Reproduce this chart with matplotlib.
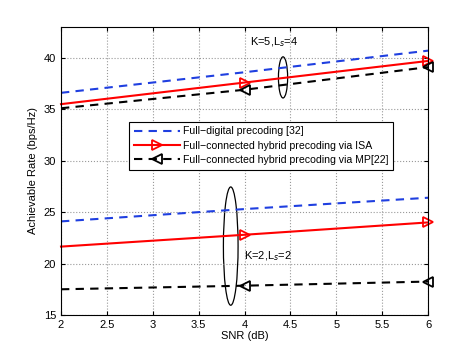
import matplotlib.pyplot as plt
from matplotlib.patches import Ellipse
from matplotlib.lines import Line2D

plt.rcParams['font.family'] = ['Liberation Sans', 'DejaVu Sans']

# SNR points
snr = [2, 4, 6]

# K=5, Ls=4
digital_k5 = [36.6, 38.6, 40.7]
isa_k5 = [35.5, 37.6, 39.7]
mp_k5 = [35.1, 36.9, 39.1]

# K=2, Ls=2
digital_k2 = [24.1, 25.3, 26.4]
isa_k2 = [21.65, 22.8, 24.0]
mp_k2 = [17.5, 17.85, 18.25]

labels = ["Full\u2212digital precoding [32]",
          "Full\u2212connected hybrid precoding via ISA",
          "Full\u2212connected hybrid precoding via MP[22]"]

blue = '#1f3fe0'
fig = plt.figure(figsize=(4.74, 3.55), dpi=100)
ax = fig.add_axes([61 / 474, 40 / 355, 367 / 474, 288 / 355])

mk = [1, 2]
red_style = dict(color='red', lw=1.5, marker='>', markerfacecolor='none',
                 markeredgewidth=1.3, markersize=7)
black_style = dict(color='black', lw=1.5, dashes=(4, 3), marker='<',
                   markerfacecolor='none', markeredgewidth=1.3, markersize=7)

for d, i, m in [(digital_k5, isa_k5, mp_k5), (digital_k2, isa_k2, mp_k2)]:
    ax.plot(snr, d, '--', color=blue, lw=1.5, dashes=(4, 3))
    ax.plot(snr, i, '-', markevery=mk, clip_on=False, **red_style)
    ax.plot(snr, m, '--', markevery=mk, clip_on=False, **black_style)

ax.add_patch(Ellipse((4.42, 38.1), 0.1, 4.0, fill=False, color='black', lw=0.9))
ax.add_patch(Ellipse((3.85, 21.7), 0.16, 11.5, fill=False, color='black', lw=0.9))
ax.text(4.06, 41.2, "K=5,L$_s$=4", fontsize=8)
ax.text(4.0, 20.4, "K=2,L$_s$=2", fontsize=8)

ax.set_xlim(2, 6)
ax.set_ylim(15, 43)
ax.set_xticks([2, 2.5, 3, 3.5, 4, 4.5, 5, 5.5, 6])
ax.set_xticklabels(['2', '2.5', '3', '3.5', '4', '4.5', '5', '5.5', '6'])
ax.set_yticks([15, 20, 25, 30, 35, 40])
ax.tick_params(labelsize=8, direction='in', length=3, top=True, right=True)
ax.grid(True, linestyle=':', color='#999999', lw=0.8)
ax.set_xlabel("SNR (dB)", fontsize=8, labelpad=1)
ax.set_ylabel("Achievable Rate (bps/Hz)", fontsize=8, labelpad=4)

handles = [Line2D([], [], linestyle='--', color=blue, lw=1.5, dashes=(4, 3)),
           Line2D([], [], linestyle='-', **red_style),
           Line2D([], [], linestyle='--', **black_style)]
leg = ax.legend(handles, labels, loc='upper left', bbox_to_anchor=(0.172, 0.69),
                fontsize=7.6, handlelength=4.3, numpoints=1, borderpad=0.45,
                labelspacing=0.4, handletextpad=0.3, fancybox=False, framealpha=1,
                edgecolor='black')
leg.get_frame().set_linewidth(0.8)

fig.savefig("out.png", dpi=100)
